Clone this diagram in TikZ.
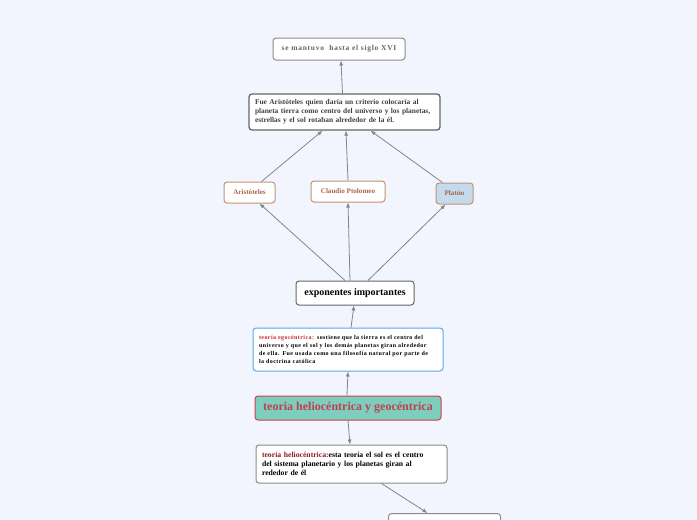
\documentclass[tikz,border=0pt]{standalone}
\usepackage{fontspec}
\setmainfont{Liberation Serif}
\usetikzlibrary{arrows.meta, positioning}
\definecolor{mapbg}{HTML}{F3F5FE}
\definecolor{mapline}{HTML}{80858F}
\definecolor{mapgray}{HTML}{8C8C8C}
\definecolor{mapdark}{HTML}{666666}
\definecolor{mapbrown}{HTML}{C39272}
\definecolor{mapbrowntxt}{HTML}{A8674A}
\definecolor{mapsky}{HTML}{C4DBEE}
\definecolor{mapblue}{HTML}{5AA5F2}
\definecolor{mapteal}{HTML}{7FCDBF}
\definecolor{mapred}{HTML}{C9424F}
\definecolor{maptitle}{HTML}{B9434E}
\definecolor{maplabel}{HTML}{C4262E}
\definecolor{mapwine}{HTML}{8E1C22}
\tikzset{
  topic/.style={rectangle, rounded corners=3pt, draw=mapgray, line width=1pt, fill=white,
    align=left, font=\bfseries\fontsize{7.5}{9}\selectfont},
  keybox/.style={topic, draw=mapdark, line width=1.3pt, text=black!75},
  person/.style={rectangle, rounded corners=3pt, draw=mapbrown, line width=1pt, fill=white,
    text=mapbrowntxt, font=\bfseries\fontsize{7.1}{8}\selectfont, minimum height=21pt},
  central/.style={rectangle, rounded corners=3pt, draw=mapred, line width=1pt, fill=mapteal,
    text=maptitle, font=\bfseries\fontsize{12}{14}\selectfont, minimum width=186pt, minimum height=24pt},
  conn/.style={-{Latex[length=5pt, width=4pt]}, line width=0.8pt, mapline},
}
\begin{document}
\begin{tikzpicture}[x=1pt, y=-1pt]
  \fill[mapbg] (0,0) rectangle (697,520);
  \clip (0,0) rectangle (697,520);

  % main chain
  \node[central] (teoria) at (348,408) {teoria heliocéntrica y geocéntrica};
  \node[topic, draw=mapblue, text width=178pt, inner xsep=6pt, minimum height=43pt,
    font=\bfseries\fontsize{6}{8.2}\selectfont\addfontfeature{LetterSpace=7},
    above=24pt of teoria] (ego)
    {\textcolor{maplabel}{teoría egocéntrica:} sostiene que la tierra es el centro del\\
     universo y que el sol y los demás planetas giran alrededor\\
     de ella. Fue usada como una filosofía natural por parte de\\
     la doctrina católica};
  \node[topic, draw=mapdark, align=center, font=\bfseries\fontsize{10}{12}\selectfont,
    minimum width=118pt, minimum height=24pt, above=22pt of ego, xshift=7pt] (expo)
    {exponentes importantes};
  \node[topic, text width=179pt, inner xsep=6pt, minimum height=38pt,
    font=\bfseries\fontsize{7.7}{9}\selectfont, below=24pt of teoria, xshift=3.5pt] (helio)
    {\mbox{\textcolor{mapwine}{teoria heliocéntrica:}esta teoría el sol es el centro}\\
     \mbox{del sistema planetario y los planetas giran al}\\
     rededor de él};
  \node[topic, minimum width=112pt, minimum height=30pt, anchor=north west] (next) at (388,513) {};

  % exponentes
  \node[person, minimum width=51pt] (aris) at (249.5,192.5) {Aristóteles};
  \node[person, minimum width=74pt] (ptol) at (348,191.5) {Claudio Ptolomeo};
  \node[person, minimum width=37pt, fill=mapsky] (plat) at (454.5,193.5) {Platón};

  % upper boxes
  \node[keybox, text width=179pt, inner xsep=6pt, minimum height=36pt,
    font=\bfseries\fontsize{7.4}{9}\selectfont] (fue) at (344.5,112)
    {\mbox{Fue Aristóteles quien daría un criterio colocaría al}\\
     \mbox{planeta tierra como centro del universo y los planetas,}\\
     \mbox{estrellas y el sol rotaban alrededor de la él.}};
  \node[topic, align=center, text=mapdark, minimum width=132pt, minimum height=22pt,
    font=\bfseries\fontsize{7.5}{9}\selectfont\addfontfeature{LetterSpace=10}] (mant) at (339,49)
    {se mantuvo\ \ hasta el siglo XVI};

  % connectors
  \draw[conn] ([xshift=-2pt]fue.north) -- ([xshift=2pt]mant.south);
  \draw[conn] ([xshift=12pt]aris.north) -- ([xshift=-22pt]fue.south);
  \draw[conn] (ptol.north) -- ([xshift=1.5pt]fue.south);
  \draw[conn] ([xshift=-12pt]plat.north) -- ([xshift=26pt]fue.south);
  \draw[conn] ([xshift=-10pt]expo.north) -- ([xshift=10pt]aris.south);
  \draw[conn] ([xshift=-5pt]expo.north) -- (ptol.south);
  \draw[conn] ([xshift=13pt]expo.north) -- ([xshift=-9pt]plat.south);
  \draw[conn] ([xshift=3pt]ego.north) -- ([xshift=-1pt]expo.south);
  \draw[conn] ([xshift=-1pt]teoria.north) -- (ego.south);
  \draw[conn] (teoria.south) -- ([xshift=-1.5pt]helio.north);
  \draw[conn] ([xshift=30pt]helio.south) -- ([xshift=-17pt]next.north);
\end{tikzpicture}
\end{document}
